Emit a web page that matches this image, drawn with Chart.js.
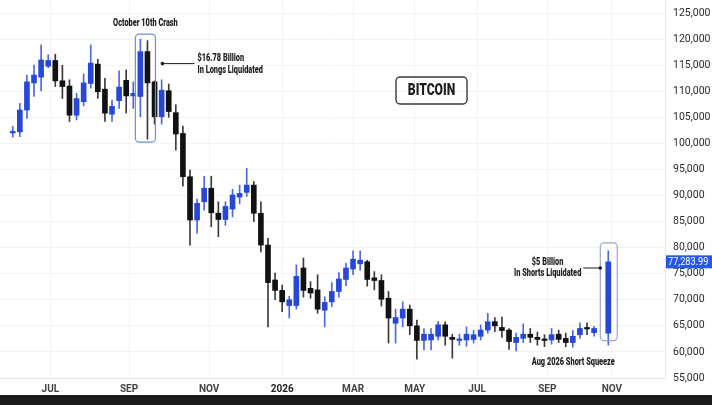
<!DOCTYPE html>
<html lang="en">
<head>
<meta charset="UTF-8" />
<title>Bitcoin - weekly</title>
<script src="https://cdn.jsdelivr.net/npm/chart.js@4.4.1/dist/chart.umd.min.js"></script>
<style>
  html, body { margin: 0; padding: 0; background: #fff; }
  .wrap { width: 712px; height: 405px; position: relative; overflow: hidden; }
  .footer { position: absolute; left: 0; bottom: 0; width: 712px; height: 10px; background: #1b1b1b; }
</style>
</head>
<body>
<div class="wrap">
  <canvas id="btcChart" width="712" height="395"></canvas>
  <div class="footer"></div>
</div>
<script>
// weekly candles, one slot left empty before the last (squeeze) candle
const open = [
  102000, 102200, 106400, 111600, 112700, 114800, 115900, 112000, 111000, 105400,
  108000, 111500, 115200, 110400, 105600, 108200, 112100, 109100, 109000, 117600,
  111800, 105100, 110100, 105900, 101900, 93600, 85300, 88800, 91400, 86600,
  85400, 87400, 89700, 90600, 92000, 86600, 80500, 73800, 71800, 68900,
  68900, 76100, 72200, 71900, 68000, 69600, 71600, 73900, 75900, 76900,
  77300, 74200, 73700, 70300, 65500, 66500, 68200, 65000, 62200, 62300,
  63000, 65200, 62800, 62200, 62300, 62400, 63000, 64200, 65800, 64700,
  64200, 61800, 62600, 63400, 62800, 62400, 62300, 63400, 62600, 61800,
  63300, 64600, 63700, null, 63600
];
const high = [
  103300, 107700, 113100, 115000, 118900, 117000, 117100, 115000, 112200, 109600,
  113300, 118900, 116100, 112500, 108300, 113900, 114100, 111800, 120000, 119700,
  112000, 112200, 111400, 107400, 103300, 94900, 89300, 93700, 93700, 88800,
  88800, 91200, 92000, 95200, 92700, 88800, 81800, 75100, 72800, 70700,
  76700, 78000, 73500, 74800, 70600, 73300, 75200, 77000, 79400, 79400,
  77600, 75400, 74800, 71600, 68200, 69600, 69000, 66100, 64500, 64500,
  65800, 65800, 63400, 63400, 64800, 64100, 65200, 67400, 66600, 66700,
  64500, 63600, 65400, 64500, 63800, 63300, 64500, 64200, 63600, 64100,
  65600, 65600, 64900, null, 79400
];
const low = [
  101200, 101300, 104800, 109000, 110100, 114500, 110900, 108600, 104200, 104500,
  107200, 110600, 108600, 104200, 104200, 106700, 105800, 106700, 105100, 100800,
  103700, 103700, 105000, 98700, 91800, 80500, 82800, 87200, 84000, 82100,
  84300, 85900, 88400, 89800, 85000, 79200, 64800, 70000, 67700, 66500,
  68200, 70500, 70300, 67400, 64800, 68700, 70500, 72700, 74800, 75700,
  72600, 71900, 68800, 61700, 61700, 64800, 63300, 58600, 60400, 60400,
  62300, 61300, 58800, 61300, 61100, 61700, 62300, 63600, 63900, 62800,
  60500, 60200, 61800, 61800, 61300, 61000, 61500, 61800, 61000, 60900,
  62600, 63300, 63000, null, 61300
];
const close = [
  102300, 106400, 111800, 113100, 116000, 115900, 112000, 110900, 105400, 108600,
  111600, 115400, 109900, 105800, 107100, 110800, 109100, 109600, 117600, 111600,
  105100, 110200, 106100, 101800, 93600, 85300, 88500, 91400, 86700, 85400,
  87900, 90100, 90400, 92000, 86600, 80500, 73300, 71800, 69600, 70000,
  74500, 71800, 71300, 68200, 69500, 71600, 74000, 76100, 77800, 77600,
  73900, 73700, 70100, 66500, 66600, 68200, 65000, 62200, 63400, 63400,
  65200, 63000, 62400, 62500, 63400, 63300, 64200, 65800, 65000, 64100,
  62000, 62800, 63400, 62800, 62400, 62200, 63300, 62400, 61800, 63000,
  64500, 64400, 64500, null, 77283.99
];

const xTickLabels = ["JUL", "SEP", "NOV", "2026", "MAR", "MAY", "JUL", "SEP", "NOV"];
const xTickPos = [5.3, 16.4, 27.7, 38, 48, 56.7, 65.5, 75.4, 84.5];
const yTicks = [55000, 60000, 65000, 70000, 75000, 80000, 85000, 90000, 95000,
  100000, 105000, 110000, 115000, 120000, 125000];

const crashCandles = [18, 19];
const squeezeCandle = 84;

const UP = "#2747d6";
const DOWN = "#121212";
const NOTE_FONT = "900 11px Roboto, sans-serif";
const NOTE_SX = 0.67;

const idx = open.map((_, i) => i).filter(i => open[i] !== null);
const isUp = i => close[i] >= open[i];

function rrect(ctx, x0, y0, x1, y1, r) {
  ctx.beginPath();
  ctx.roundRect(x0, y0, x1 - x0, y1 - y0, r);
}

// text squeezed horizontally to look like the condensed face in the original
function note(ctx, text, x, y, align, font, sx) {
  ctx.save();
  ctx.font = font;
  const w = ctx.measureText(text).width * sx;
  const left = align === "center" ? x - w / 2 : align === "right" ? x - w : x;
  ctx.translate(left, y);
  ctx.scale(sx, 1);
  ctx.textAlign = "left";
  ctx.textBaseline = "middle";
  ctx.fillText(text, 0, 0);
  ctx.restore();
  return w;
}

function noteWidth(ctx, text, font, sx) {
  ctx.save();
  ctx.font = font;
  const w = ctx.measureText(text).width * sx;
  ctx.restore();
  return w;
}

const notes = {
  id: "notes",
  afterDatasetsDraw(chart) {
    const { ctx, chartArea } = chart;
    const x = chart.scales.x, y = chart.scales.y;
    ctx.save();
    ctx.fillStyle = "#1d1d1d";

    // October crash box
    const cHigh = Math.max(...crashCandles.map(i => high[i]));
    const cLow = Math.min(...crashCandles.map(i => low[i]));
    const bx0 = x.getPixelForValue(crashCandles[0]) - 5;
    const bx1 = x.getPixelForValue(crashCandles[1]) + 8;
    const by0 = y.getPixelForValue(cHigh) - 5;
    const by1 = y.getPixelForValue(cLow) + 3;
    ctx.strokeStyle = "#6f8fd3";
    ctx.lineWidth = 1.2;
    rrect(ctx, bx0, by0, bx1, by1, 4);
    ctx.stroke();
    note(ctx, "October 10th Crash", (bx0 + bx1) / 2, by0 - 11, "center", NOTE_FONT, NOTE_SX);

    // longs liquidated callout
    const ly = y.getPixelForValue(115300);
    const lx = bx1 + 7;
    ctx.beginPath();
    ctx.arc(lx, ly, 1.8, 0, Math.PI * 2);
    ctx.fill();
    ctx.strokeStyle = "#1d1d1d";
    ctx.lineWidth = 1;
    ctx.beginPath();
    ctx.moveTo(lx, ly);
    ctx.lineTo(lx + 32, ly);
    ctx.stroke();
    note(ctx, "$16.78 Billion", lx + 35, ly - 5, "left", NOTE_FONT, NOTE_SX);
    note(ctx, "In Longs Liquidated", lx + 35, ly + 7, "left", NOTE_FONT, NOTE_SX);

    // BITCOIN tag
    ctx.strokeStyle = "#3a3a3a";
    ctx.lineWidth = 1.4;
    rrect(ctx, chartArea.left + 396, chartArea.top + 77, chartArea.left + 467, chartArea.top + 104, 4);
    ctx.stroke();
    note(ctx, "BITCOIN", chartArea.left + 431.5, chartArea.top + 91, "center", "900 16px Roboto, sans-serif", 0.76);

    // squeeze box
    const sx = x.getPixelForValue(squeezeCandle);
    const sx0 = sx - 8, sx1 = sx + 9;
    const sy0 = y.getPixelForValue(high[squeezeCandle]) - 8;
    const sy1 = y.getPixelForValue(open[squeezeCandle]) + 7.5;
    ctx.strokeStyle = "#9aa6c4";
    ctx.lineWidth = 1.2;
    rrect(ctx, sx0, sy0, sx1, sy1, 4);
    ctx.stroke();

    // shorts liquidated callout
    const dy = y.getPixelForValue(76100);
    ctx.beginPath();
    ctx.arc(sx0, dy, 1.8, 0, Math.PI * 2);
    ctx.fill();
    ctx.strokeStyle = "#1d1d1d";
    ctx.lineWidth = 1;
    ctx.beginPath();
    ctx.moveTo(sx0, dy);
    ctx.lineTo(sx0 - 17, dy);
    ctx.stroke();
    const w2 = noteWidth(ctx, "In Shorts Liquidated", NOTE_FONT, NOTE_SX);
    const tc = sx0 - 19 - w2 / 2;
    note(ctx, "$5 Billion", tc, dy - 6, "center", NOTE_FONT, NOTE_SX);
    note(ctx, "In Shorts Liquidated", tc, dy + 5, "center", NOTE_FONT, NOTE_SX);
    note(ctx, "Aug 2026 Short Squeeze", sx - 35, sy1 + 22, "center", NOTE_FONT, NOTE_SX);
    ctx.restore();
  },
  afterDraw(chart) {
    // last price tag on the axis
    const { ctx, chartArea } = chart;
    const last = close[squeezeCandle];
    const py = chart.scales.y.getPixelForValue(last);
    ctx.save();
    ctx.fillStyle = "#2458e8";
    ctx.fillRect(chartArea.right + 1, py - 6.5, chart.width - chartArea.right - 1, 13);
    ctx.fillStyle = "#fff";
    note(ctx, last.toLocaleString("en-US", { minimumFractionDigits: 2 }), chartArea.right + 3, py + 0.5,
      "left", "10px Roboto, sans-serif", 0.92);
    ctx.restore();
  }
};

const ctx = document.getElementById("btcChart").getContext("2d");
new Chart(ctx, {
  type: "bar",
  data: {
    datasets: [
      {
        label: "wick",
        data: idx.map(i => ({ x: i, y: [low[i], high[i]] })),
        backgroundColor: idx.map(i => (isUp(i) ? "#4d68dc" : "#3a3a3a")),
        barThickness: 1,
        grouped: false,
        order: 2
      },
      {
        label: "body",
        data: idx.map(i => ({ x: i, y: [open[i], close[i]] })),
        backgroundColor: idx.map(i => (isUp(i) ? UP : DOWN)),
        barThickness: 5,
        minBarLength: 1.5,
        grouped: false,
        order: 1
      }
    ]
  },
  options: {
    responsive: false,
    animation: false,
    events: [],
    layout: { padding: 0 },
    plugins: { legend: { display: false }, tooltip: { enabled: false } },
    scales: {
      x: {
        type: "linear",
        min: -1.8,
        max: 92,
        offset: false,
        afterBuildTicks: s => { s.ticks = xTickPos.map(v => ({ value: v })); },
        afterFit: s => { s.height = 17; s.paddingLeft = 0; s.paddingRight = 0; },
        grid: { color: "#f3f3f3", drawTicks: false, offset: false },
        border: { color: "#e6e6e6" },
        ticks: {
          padding: 5,
          maxRotation: 0,
          autoSkip: false,
          color: c => (xTickLabels[c.index] === "2026" ? "#222" : "#444"),
          font: { family: "Roboto, sans-serif", size: 10, weight: "bold" },
          callback: (v, i) => xTickLabels[i]
        }
      },
      y: {
        position: "right",
        min: 55000,
        max: 127500,
        afterBuildTicks: s => { s.ticks = yTicks.map(v => ({ value: v })); },
        afterFit: s => { s.width = 47; s.paddingTop = 0; s.paddingBottom = 0; },
        grid: { color: "#f3f3f3", drawTicks: false },
        border: { color: "#e6e6e6" },
        ticks: {
          padding: 8,
          color: "#2b2b2b",
          font: { family: "Roboto, sans-serif", size: 10.5 },
          callback: v => v.toLocaleString("en-US")
        }
      }
    }
  },
  plugins: [notes]
});
</script>
</body>
</html>
